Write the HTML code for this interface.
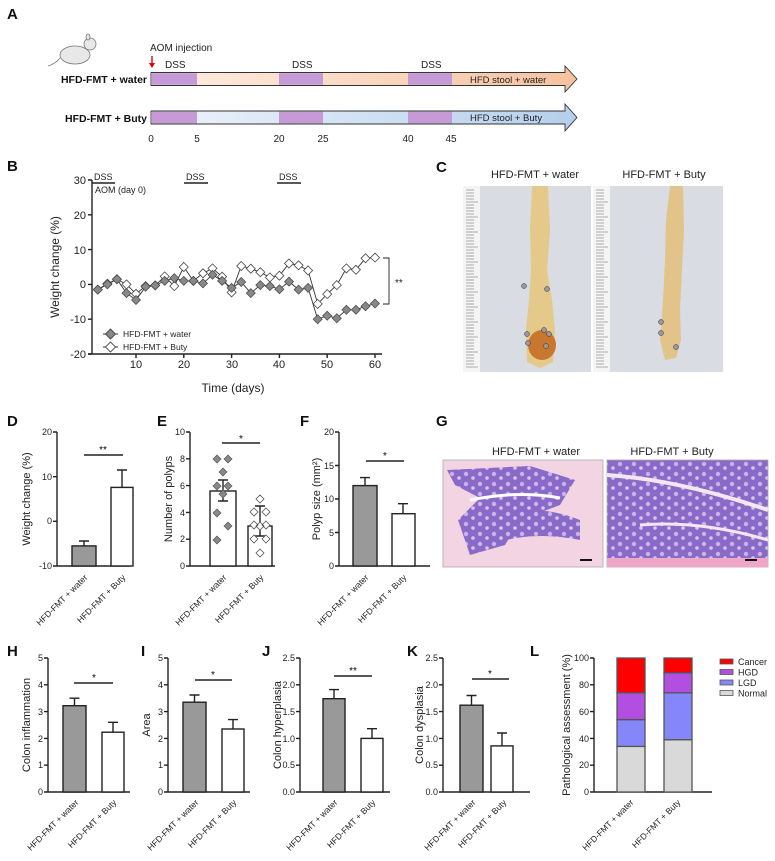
<!DOCTYPE html>
<html><head><meta charset="utf-8"><style>
body{margin:0;background:#fff}
svg{display:block;font-family:"Liberation Sans",Arial,sans-serif}
.t{font-size:9px;fill:#222}
.yl{font-size:11px;fill:#222}
.pl{font-size:15px;font-weight:bold;fill:#111}
.ax{stroke:#222;stroke-width:1.4;fill:none}
.bw{fill:#999;stroke:#222;stroke-width:1.4}
.bb{fill:#fff;stroke:#222;stroke-width:1.4}
.xl{font-size:8.5px;fill:#222}
</style></head><body>
<svg width="775" height="861" viewBox="0 0 775 861">
<defs>
<linearGradient id="gw" x1="0" x2="1"><stop offset="0" stop-color="#fdeee4"/><stop offset="1" stop-color="#f5c29e"/></linearGradient>
<linearGradient id="gb" x1="0" x2="1"><stop offset="0" stop-color="#eef3fa"/><stop offset="1" stop-color="#b4cfec"/></linearGradient>
<pattern id="he1" width="14" height="10" patternUnits="userSpaceOnUse"><rect width="14" height="10" fill="#8a6ac8"/><circle cx="4" cy="4" r="2.2" fill="#c9b4e8"/><circle cx="11" cy="8" r="1.8" fill="#d7c6ef"/></pattern>
<path id="dm" d="M0 -4.5l4.5 4.5-4.5 4.5-4.5-4.5z"/>
</defs>

<!-- A -->
<text x="7" y="19" class="pl">A</text>
<g fill="#e8e8e8" stroke="#777" stroke-width="0.8">
<ellipse cx="75" cy="55" rx="15" ry="9"/><circle cx="90" cy="44" r="6"/><ellipse cx="88" cy="37" rx="2" ry="3"/>
<path d="M60 58 Q55 64 48 66" fill="none"/></g>
<text x="150" y="51" style="font-size:10px" fill="#222">AOM injection</text>
<path d="M152 56 V66" stroke="#d00" stroke-width="1.4"/><path d="M149 63 L152 68 L155 63Z" fill="#d00"/>
<text x="165" y="68" style="font-size:10px" fill="#222">DSS</text>
<text x="292" y="68" style="font-size:10px" fill="#222">DSS</text>
<text x="421" y="68" style="font-size:10px" fill="#222">DSS</text>
<text x="147" y="83" text-anchor="end" style="font-size:10.5px;font-weight:bold" fill="#111">HFD-FMT + water</text>
<text x="147" y="122" text-anchor="end" style="font-size:10.5px;font-weight:bold" fill="#111">HFD-FMT + Buty</text>
<path d="M151 72.5 H565 V66 L577 79 L565 92 V85.5 H151Z" fill="url(#gw)" stroke="#333" stroke-width="0.9"/>
<path d="M151 111 H565 V104 L577 117.5 L565 131 V124 H151Z" fill="url(#gb)" stroke="#333" stroke-width="0.9"/>
<g fill="#c59ad6"><rect x="152" y="73.2" width="45" height="11.6"/><rect x="279" y="73.2" width="44" height="11.6"/><rect x="408" y="73.2" width="44" height="11.6"/>
<rect x="152" y="111.7" width="45" height="11.6"/><rect x="279" y="111.7" width="44" height="11.6"/><rect x="408" y="111.7" width="44" height="11.6"/></g>
<text x="470" y="83" style="font-size:9.5px" fill="#222">HFD stool + water</text>
<text x="470" y="121" style="font-size:9.5px" fill="#222">HFD stool + Buty</text>
<g style="font-size:10px" fill="#222" text-anchor="middle"><text x="151" y="142">0</text><text x="197" y="142">5</text><text x="279" y="142">20</text><text x="323" y="142">25</text><text x="408" y="142">40</text><text x="451" y="142">45</text></g>

<!-- B -->
<text x="7" y="171" class="pl">B</text>
<path d="M92 180 V354 M88 354 H382" class="ax"/>
<g class="ax"><path d="M88 180H92M88 214.8H92M88 249.6H92M88 284.4H92M88 319.2H92M88 354H92"/>
<path d="M136 354V358M183.8 354V358M231.6 354V358M279.4 354V358M327.2 354V358M375 354V358"/></g>
<g style="font-size:11px" fill="#222" text-anchor="end"><text x="86" y="184">30</text><text x="86" y="219">20</text><text x="86" y="254">10</text><text x="86" y="288">0</text><text x="86" y="323">-10</text><text x="86" y="358">-20</text></g>
<g style="font-size:11px" fill="#222" text-anchor="middle"><text x="136" y="368">10</text><text x="184" y="368">20</text><text x="232" y="368">30</text><text x="279" y="368">40</text><text x="327" y="368">50</text><text x="375" y="368">60</text></g>
<text x="233" y="392" text-anchor="middle" style="font-size:12px" fill="#222">Time (days)</text>
<text transform="translate(59,267) rotate(-90)" text-anchor="middle" style="font-size:12px" fill="#222">Weight change (%)</text>
<g style="font-size:9px" fill="#222"><text x="94" y="180">DSS</text><text x="186" y="180">DSS</text><text x="279" y="180">DSS</text><text x="95" y="193">AOM (day 0)</text></g>
<path d="M92 183H115M184 183H208M277 183H301" stroke="#222" stroke-width="1.5"/>
<path d="M383 258H389V304H383" stroke="#222" fill="none" stroke-width="0.9"/>
<text x="395" y="286" style="font-size:10px" fill="#222">**</text>
<polyline fill="none" stroke="#333" stroke-width="0.9" points="97.8,289.6 107.4,284.4 116.9,279.2 126.5,293.1 136,300 145.6,286.8 155.2,285.4 164.7,280.9 174.3,278.1 183.8,280.9 193.4,280.9 203,283.4 212.5,274.7 222.1,280.9 231.6,287.9 241.2,282 250.8,293.1 260.3,285.1 269.9,286.1 279.4,289.3 289,281.6 298.6,289.6 308.1,287.9 317.7,319.2 327.2,315.7 336.8,318.2 346.4,309.8 355.9,309.8 365.5,306.3 375,303.5"/>
<polyline fill="none" stroke="#333" stroke-width="0.9" points="97.8,289.6 107.4,283.7 116.9,279.2 126.5,284.4 136,293.8 145.6,286.1 155.2,285.4 164.7,276.4 174.3,286.1 183.8,267 193.4,280.9 203,273.3 212.5,268.4 222.1,276.7 231.6,292.4 241.2,266 250.8,268.7 260.3,272.2 269.9,277.4 279.4,275.7 289,263.5 298.6,265.3 308.1,270.5 317.7,303.9 327.2,294.1 336.8,285.1 346.4,268.4 355.9,269.8 365.5,258.3 375,257.6"/>
<g fill="#fff" stroke="#444" stroke-width="0.8">
<use href="#dm" x="97.8" y="289.6"/><use href="#dm" x="107.4" y="283.7"/><use href="#dm" x="116.9" y="279.2"/><use href="#dm" x="126.5" y="284.4"/><use href="#dm" x="136" y="293.8"/><use href="#dm" x="145.6" y="286.1"/><use href="#dm" x="155.2" y="285.4"/><use href="#dm" x="164.7" y="276.4"/><use href="#dm" x="174.3" y="286.1"/><use href="#dm" x="183.8" y="267"/><use href="#dm" x="193.4" y="280.9"/><use href="#dm" x="203" y="273.3"/><use href="#dm" x="212.5" y="268.4"/><use href="#dm" x="222.1" y="276.7"/><use href="#dm" x="231.6" y="292.4"/><use href="#dm" x="241.2" y="266"/><use href="#dm" x="250.8" y="268.7"/><use href="#dm" x="260.3" y="272.2"/><use href="#dm" x="269.9" y="277.4"/><use href="#dm" x="279.4" y="275.7"/><use href="#dm" x="289" y="263.5"/><use href="#dm" x="298.6" y="265.3"/><use href="#dm" x="308.1" y="270.5"/><use href="#dm" x="317.7" y="303.9"/><use href="#dm" x="327.2" y="294.1"/><use href="#dm" x="336.8" y="285.1"/><use href="#dm" x="346.4" y="268.4"/><use href="#dm" x="355.9" y="269.8"/><use href="#dm" x="365.5" y="258.3"/><use href="#dm" x="375" y="257.6"/>
</g>
<g fill="#888" stroke="#444" stroke-width="0.7">
<use href="#dm" x="97.8" y="289.6"/><use href="#dm" x="107.4" y="284.4"/><use href="#dm" x="116.9" y="279.2"/><use href="#dm" x="126.5" y="293.1"/><use href="#dm" x="136" y="300"/><use href="#dm" x="145.6" y="286.8"/><use href="#dm" x="155.2" y="285.4"/><use href="#dm" x="164.7" y="280.9"/><use href="#dm" x="174.3" y="278.1"/><use href="#dm" x="183.8" y="280.9"/><use href="#dm" x="193.4" y="280.9"/><use href="#dm" x="203" y="283.4"/><use href="#dm" x="212.5" y="274.7"/><use href="#dm" x="222.1" y="280.9"/><use href="#dm" x="231.6" y="287.9"/><use href="#dm" x="241.2" y="282"/><use href="#dm" x="250.8" y="293.1"/><use href="#dm" x="260.3" y="285.1"/><use href="#dm" x="269.9" y="286.1"/><use href="#dm" x="279.4" y="289.3"/><use href="#dm" x="289" y="281.6"/><use href="#dm" x="298.6" y="289.6"/><use href="#dm" x="308.1" y="287.9"/><use href="#dm" x="317.7" y="319.2"/><use href="#dm" x="327.2" y="315.7"/><use href="#dm" x="336.8" y="318.2"/><use href="#dm" x="346.4" y="309.8"/><use href="#dm" x="355.9" y="309.8"/><use href="#dm" x="365.5" y="306.3"/><use href="#dm" x="375" y="303.5"/>
</g>
<path d="M103 334H118" stroke="#333"/><path d="M110.5 329l5 5-5 5-5-5z" fill="#888" stroke="#333" stroke-width="0.8"/>
<path d="M103 347H118" stroke="#333"/><path d="M110.5 342l5 5-5 5-5-5z" fill="#fff" stroke="#333" stroke-width="0.8"/>
<text x="123" y="337" style="font-size:8.5px" fill="#222">HFD-FMT + water</text>
<text x="123" y="350" style="font-size:8.5px" fill="#222">HFD-FMT + Buty</text>

<!-- C -->
<text x="436" y="172" class="pl">C</text>
<text x="535" y="178" text-anchor="middle" style="font-size:11px" fill="#222">HFD-FMT + water</text>
<text x="664" y="178" text-anchor="middle" style="font-size:11px" fill="#222">HFD-FMT + Buty</text>
<rect x="463" y="186" width="128" height="186" fill="#d9dce2"/>
<rect x="593" y="186" width="130" height="186" fill="#d9dce2"/>
<rect x="463" y="186" width="17" height="186" fill="#f4f4f4"/><rect x="593" y="186" width="17" height="186" fill="#f4f4f4"/>
<g stroke="#666" stroke-width="0.6"><path id="rul" d="M466 190h8M466 193h8M466 196h8M466 199h8M466 202h12M466 205h8M466 208h8M466 211h8M466 214h8M466 217h12M466 220h8M466 223h8M466 226h8M466 229h8M466 232h12M466 235h8M466 238h8M466 241h8M466 244h8M466 247h12M466 250h8M466 253h8M466 256h8M466 259h8M466 262h12M466 265h8M466 268h8M466 271h8M466 274h8M466 277h12M466 280h8M466 283h8M466 286h8M466 289h8M466 292h12M466 295h8M466 298h8M466 301h8M466 304h8M466 307h12M466 310h8M466 313h8M466 316h8M466 319h8M466 322h12M466 325h8M466 328h8M466 331h8M466 334h8M466 337h12M466 340h8M466 343h8M466 346h8M466 349h8M466 352h12M466 355h8M466 358h8M466 361h8M466 364h8M466 367h12"/>
<use href="#rul" x="130"/></g>
<path d="M532 186 H548 L550 230 L547 270 L552 300 L555 330 L553 362 L540 368 L527 362 L526 330 L529 300 L531 270 L530 230Z" fill="#e4c98a"/>
<ellipse cx="542" cy="345" rx="14" ry="15" fill="#c9762e"/>
<path d="M670 186 H683 L684 230 L682 270 L680 310 L681 340 L676 358 L665 360 L660 340 L663 300 L665 260 L666 220Z" fill="#e2c48a"/>
<g fill="#999" stroke="#333" stroke-width="0.5"><circle cx="524" cy="286" r="2.5"/><circle cx="547" cy="289" r="2.5"/><circle cx="527" cy="334" r="2.5"/><circle cx="544" cy="330" r="2.5"/><circle cx="549" cy="334" r="2.5"/><circle cx="528" cy="343" r="2.5"/><circle cx="546" cy="346" r="2.5"/><circle cx="661" cy="322" r="2.5"/><circle cx="661" cy="333" r="2.5"/><circle cx="676" cy="347" r="2.5"/></g>

<!-- D -->
<text x="7" y="426" class="pl">D</text>
<path d="M57 432V566M53 566H130" class="ax"/>
<path d="M53 432H57M53 476.7H57M53 521.3H57" class="ax"/>
<g class="t" text-anchor="end"><text x="52" y="435">20</text><text x="52" y="480">10</text><text x="52" y="524">0</text><text x="52" y="569">-10</text></g>
<text transform="translate(30,499) rotate(-90)" text-anchor="middle" class="yl">Weight change (%)</text>
<rect x="72" y="545.9" width="24" height="20.1" class="bw"/><path d="M84 545.9V541M79 541H89" class="ax"/>
<rect x="111" y="487.4" width="22" height="78.6" class="bb"/><path d="M122 487.4V470M117 470H127" class="ax"/>
<path d="M84 455H123" class="ax"/><text x="103" y="453" text-anchor="middle" style="font-size:10px">**</text>
<text transform="translate(88,578) rotate(-45)" text-anchor="end" class="xl">HFD-FMT + water</text>
<text transform="translate(126,578) rotate(-45)" text-anchor="end" class="xl">HFD-FMT + Buty</text>

<!-- E -->
<text x="157" y="426" class="pl">E</text>
<path d="M190 432V566M186 566H275" class="ax"/>
<path d="M186 432H190M186 458.8H190M186 485.6H190M186 512.4H190M186 539.2H190" class="ax"/>
<g class="t" text-anchor="end"><text x="185" y="435">10</text><text x="185" y="462">8</text><text x="185" y="489">6</text><text x="185" y="516">4</text><text x="185" y="542">2</text><text x="185" y="569">0</text></g>
<text transform="translate(172,499) rotate(-90)" text-anchor="middle" class="yl">Number of  polyps</text>
<rect x="210" y="491" width="26" height="75" class="bb"/>
<rect x="248" y="526" width="24" height="40" class="bb"/>
<path d="M223 480V501M218 480H228M218 501H228M260 506V536M255 506H265M255 536H265" class="ax"/>
<g fill="#888" stroke="#555" stroke-width="0.7">
<path d="M217 455l4 4-4 4-4-4zM228 455l4 4-4 4-4-4zM223 468l4 4-4 4-4-4zM217 482l4 4-4 4-4-4zM228 482l4 4-4 4-4-4zM223 490l4 4-4 4-4-4zM217 509l4 4-4 4-4-4zM217 536l4 4-4 4-4-4zM228 522l4 4-4 4-4-4z"/></g>
<g fill="#fff" stroke="#555" stroke-width="0.8">
<path d="M260 495l4 4-4 4-4-4zM254 508l4 4-4 4-4-4zM266 508l4 4-4 4-4-4zM254 521l4 4-4 4-4-4zM266 521l4 4-4 4-4-4zM260 522l4 4-4 4-4-4zM254 535l4 4-4 4-4-4zM266 535l4 4-4 4-4-4zM260 549l4 4-4 4-4-4z"/></g>
<path d="M222 443H260" class="ax"/><text x="241" y="442" text-anchor="middle" style="font-size:10px">*</text>
<text transform="translate(227,578) rotate(-45)" text-anchor="end" class="xl">HFD-FMT + water</text>
<text transform="translate(264,578) rotate(-45)" text-anchor="end" class="xl">HFD-FMT + Buty</text>

<!-- F -->
<text x="300" y="426" class="pl">F</text>
<path d="M339 432V566M335 566H430" class="ax"/>
<path d="M335 432H339M335 465.5H339M335 499H339M335 532.5H339" class="ax"/>
<g class="t" text-anchor="end"><text x="334" y="435">20</text><text x="334" y="469">15</text><text x="334" y="502">10</text><text x="334" y="536">5</text><text x="334" y="569">0</text></g>
<text transform="translate(320,499) rotate(-90)" text-anchor="middle" class="yl">Polyp size (mm²)</text>
<rect x="353" y="485.6" width="24" height="80.4" class="bw"/><path d="M365 485.6V477.6M360 477.6H370" class="ax"/>
<rect x="392" y="513.7" width="23" height="52.3" class="bb"/><path d="M403 513.7V503.7M398 503.7H408" class="ax"/>
<path d="M366 461H404" class="ax"/><text x="385" y="459" text-anchor="middle" style="font-size:10px">*</text>
<text transform="translate(369,578) rotate(-45)" text-anchor="end" class="xl">HFD-FMT + water</text>
<text transform="translate(407,578) rotate(-45)" text-anchor="end" class="xl">HFD-FMT + Buty</text>

<!-- G -->
<text x="436" y="426" class="pl">G</text>
<text x="536" y="455" text-anchor="middle" style="font-size:11px" fill="#222">HFD-FMT + water</text>
<text x="672" y="455" text-anchor="middle" style="font-size:11px" fill="#222">HFD-FMT + Buty</text>
<rect x="443" y="460" width="160" height="107" fill="#f3d4e3" stroke="#aaa" stroke-width="0.8"/>
<path d="M447 470 L530 466 L575 480 L560 505 L520 520 L505 545 L470 555 L458 520 L480 498 L455 485Z" fill="url(#he1)"/>
<path d="M480 520 Q530 500 580 520 L580 540 Q530 530 490 545Z" fill="url(#he1)"/>
<path d="M470 500 Q520 490 560 498" stroke="#fff" stroke-width="3" fill="none"/>
<rect x="607" y="460" width="161" height="107" fill="url(#he1)" stroke="#aaa" stroke-width="0.8"/>
<path d="M607 475 Q680 480 768 510" stroke="#f4e8f0" stroke-width="4" fill="none"/>
<path d="M640 525 Q700 520 768 540" stroke="#f4e8f0" stroke-width="3" fill="none"/>
<rect x="607" y="558" width="161" height="9" fill="#f0a6c9"/>
<path d="M580 560H592M745 560H757" stroke="#111" stroke-width="2"/>

<!-- H -->
<text x="7" y="656" class="pl">H</text>
<path d="M48 658V792M44 792H130" class="ax"/>
<path d="M44 658H48M44 684.8H48M44 711.6H48M44 738.4H48M44 765.2H48" class="ax"/>
<g class="t" text-anchor="end"><text x="43" y="661">5</text><text x="43" y="688">4</text><text x="43" y="715">3</text><text x="43" y="742">2</text><text x="43" y="768">1</text><text x="43" y="795">0</text></g>
<text transform="translate(30,725) rotate(-90)" text-anchor="middle" class="yl">Colon inflammation</text>
<rect x="63" y="705.7" width="23" height="86.3" class="bw"/><path d="M74.5 705.7V698.2M69.5 698.2H79.5" class="ax"/>
<rect x="102" y="732.2" width="22" height="59.8" class="bb"/><path d="M113 732.2V722.3M108 722.3H118" class="ax"/>
<path d="M74 683H113" class="ax"/><text x="94" y="681" text-anchor="middle" style="font-size:10px">*</text>
<text transform="translate(79,803) rotate(-45)" text-anchor="end" class="xl">HFD-FMT + water</text>
<text transform="translate(117,803) rotate(-45)" text-anchor="end" class="xl">HFD-FMT + Buty</text>

<!-- I -->
<text x="141" y="656" class="pl">I</text>
<path d="M168 658V792M164 792H250" class="ax"/>
<path d="M164 658H168M164 684.8H168M164 711.6H168M164 738.4H168M164 765.2H168" class="ax"/>
<g class="t" text-anchor="end"><text x="163" y="661">5</text><text x="163" y="688">4</text><text x="163" y="715">3</text><text x="163" y="742">2</text><text x="163" y="768">1</text><text x="163" y="795">0</text></g>
<text transform="translate(150,725) rotate(-90)" text-anchor="middle" class="yl">Area</text>
<rect x="183" y="702.2" width="23" height="89.8" class="bw"/><path d="M194.5 702.2V695M189.5 695H199.5" class="ax"/>
<rect x="222" y="729" width="22" height="63" class="bb"/><path d="M233 729V719.6M228 719.6H238" class="ax"/>
<path d="M195 680H232" class="ax"/><text x="213" y="678" text-anchor="middle" style="font-size:10px">*</text>
<text transform="translate(199,803) rotate(-45)" text-anchor="end" class="xl">HFD-FMT + water</text>
<text transform="translate(237,803) rotate(-45)" text-anchor="end" class="xl">HFD-FMT + Buty</text>

<!-- J -->
<text x="262" y="656" class="pl">J</text>
<path d="M300 658V792M296 792H390" class="ax"/>
<path d="M296 658H300M296 684.8H300M296 711.6H300M296 738.4H300M296 765.2H300" class="ax"/>
<g class="t" text-anchor="end"><text x="295" y="661">2.5</text><text x="295" y="688">2.0</text><text x="295" y="715">1.5</text><text x="295" y="742">1.0</text><text x="295" y="768">0.5</text><text x="295" y="795">0.0</text></g>
<text transform="translate(281,725) rotate(-90)" text-anchor="middle" class="yl">Colon hyperplasia</text>
<rect x="323" y="698.7" width="22" height="93.3" class="bw"/><path d="M334 698.7V689.6M329 689.6H339" class="ax"/>
<rect x="361" y="738.4" width="22" height="53.6" class="bb"/><path d="M372 738.4V728.7M367 728.7H377" class="ax"/>
<path d="M334 676H372" class="ax"/><text x="353" y="674" text-anchor="middle" style="font-size:10px">**</text>
<text transform="translate(338,803) rotate(-45)" text-anchor="end" class="xl">HFD-FMT + water</text>
<text transform="translate(376,803) rotate(-45)" text-anchor="end" class="xl">HFD-FMT + Buty</text>

<!-- K -->
<text x="407" y="656" class="pl">K</text>
<path d="M443 658V792M439 792H530" class="ax"/>
<path d="M439 658H443M439 684.8H443M439 711.6H443M439 738.4H443M439 765.2H443" class="ax"/>
<g class="t" text-anchor="end"><text x="438" y="661">2.5</text><text x="438" y="688">2.0</text><text x="438" y="715">1.5</text><text x="438" y="742">1.0</text><text x="438" y="768">0.5</text><text x="438" y="795">0.0</text></g>
<text transform="translate(423,725) rotate(-90)" text-anchor="middle" class="yl">Colon dysplasia</text>
<rect x="460" y="705.2" width="23" height="86.8" class="bw"/><path d="M471.5 705.2V695.5M466.5 695.5H476.5" class="ax"/>
<rect x="491" y="745.9" width="22" height="46.1" class="bb"/><path d="M502 745.9V733M497 733H507" class="ax"/>
<path d="M472 679H509" class="ax"/><text x="490" y="677" text-anchor="middle" style="font-size:10px">*</text>
<text transform="translate(476,803) rotate(-45)" text-anchor="end" class="xl">HFD-FMT + water</text>
<text transform="translate(507,803) rotate(-45)" text-anchor="end" class="xl">HFD-FMT + Buty</text>

<!-- L -->
<text x="530" y="656" class="pl">L</text>
<path d="M594 658V792M590 792H712" class="ax"/>
<path d="M590 658H594M590 684.8H594M590 711.6H594M590 738.4H594M590 765.2H594" class="ax"/>
<g class="t" text-anchor="end"><text x="589" y="661">100</text><text x="589" y="688">80</text><text x="589" y="715">60</text><text x="589" y="742">40</text><text x="589" y="768">20</text><text x="589" y="795">0</text></g>
<text transform="translate(570,725) rotate(-90)" text-anchor="middle" class="yl">Pathological assessment (%)</text>
<g stroke="#555" stroke-width="1.3">
<rect x="617" y="746.4" width="28" height="45.6" fill="#d9d9d9"/><rect x="617" y="719.6" width="28" height="26.8" fill="#8686fb"/><rect x="617" y="692.8" width="28" height="26.8" fill="#b24ee0"/><rect x="617" y="658" width="28" height="34.8" fill="#ff0000"/>
<rect x="664" y="739.7" width="28" height="52.3" fill="#d9d9d9"/><rect x="664" y="692.8" width="28" height="46.9" fill="#8686fb"/><rect x="664" y="672.7" width="28" height="20.1" fill="#b24ee0"/><rect x="664" y="658" width="28" height="14.7" fill="#ff0000"/>
</g>
<g stroke="#555" stroke-width="0.8"><rect x="720" y="659" width="13" height="5" fill="#ff0000"/><rect x="720" y="669.5" width="13" height="5" fill="#b24ee0"/><rect x="720" y="680" width="13" height="5" fill="#8686fb"/><rect x="720" y="690.5" width="13" height="5" fill="#d9d9d9"/></g>
<g class="t"><text x="738" y="665">Cancer</text><text x="738" y="675.5">HGD</text><text x="738" y="686">LGD</text><text x="738" y="696.5">Normal</text></g>
<text transform="translate(634,803) rotate(-45)" text-anchor="end" class="xl">HFD-FMT + water</text>
<text transform="translate(681,803) rotate(-45)" text-anchor="end" class="xl">HFD-FMT + Buty</text>
</svg>
</body></html>
